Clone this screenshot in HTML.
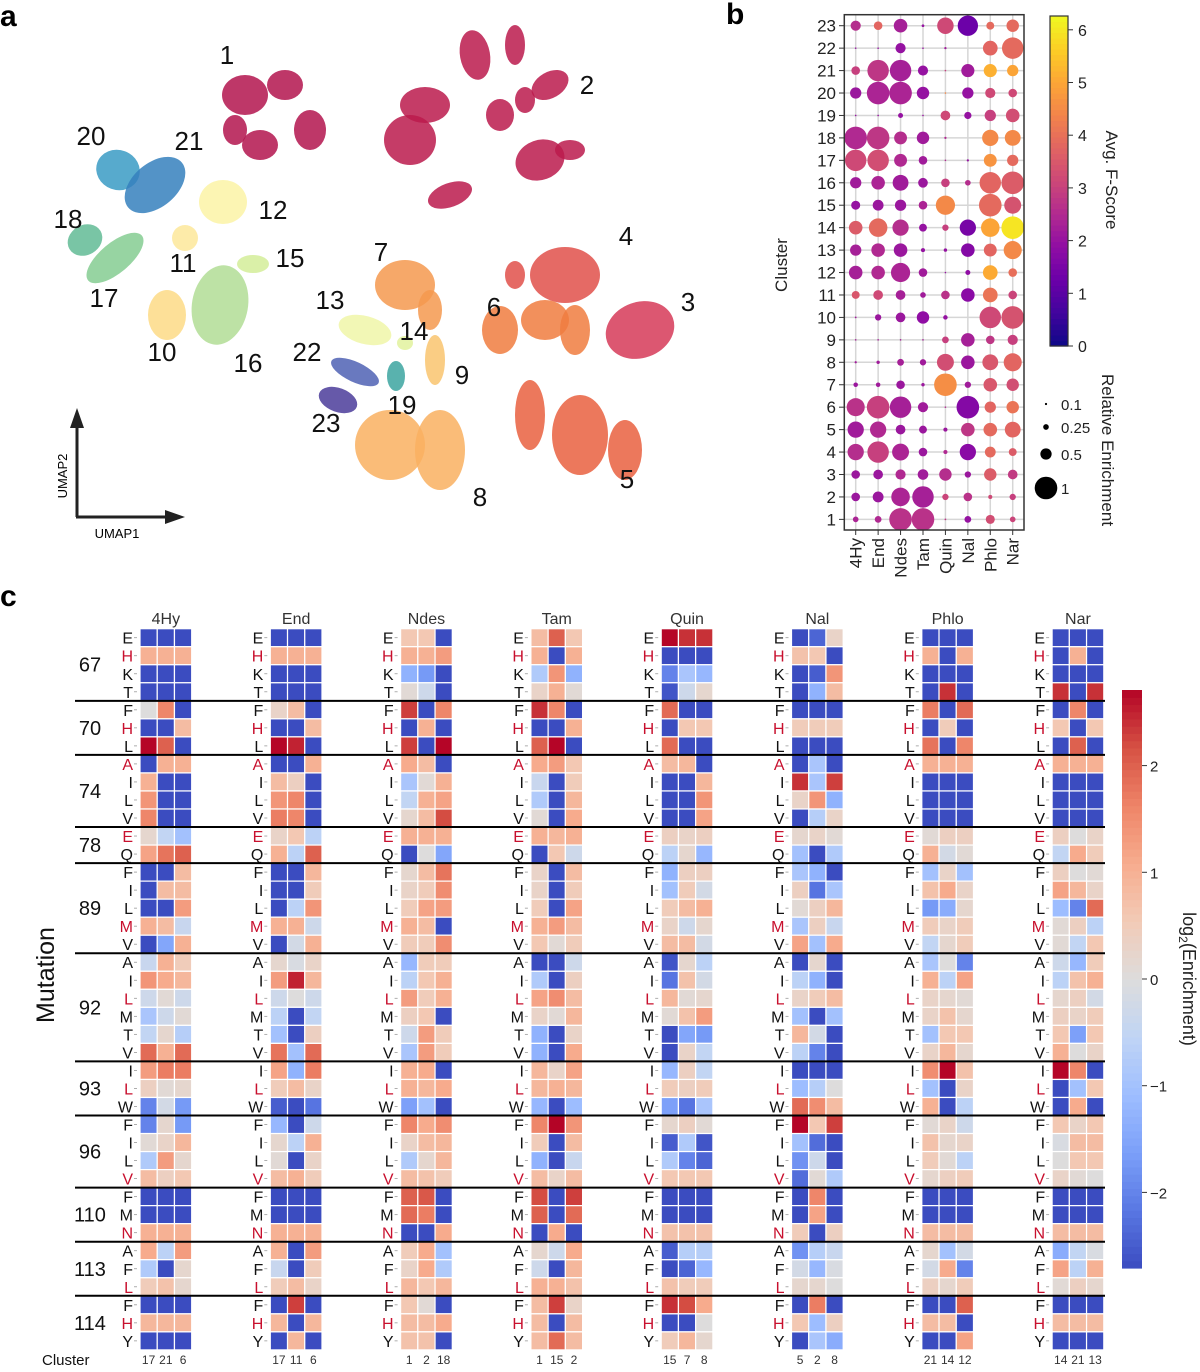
<!DOCTYPE html>
<html><head><meta charset="utf-8">
<style>
html,body{margin:0;padding:0;background:#fff;}
body{width:1200px;height:1367px;overflow:hidden;font-family:"Liberation Sans",Arial,sans-serif;}
svg text{font-family:"Liberation Sans",Arial,sans-serif;}
</style></head>
<body>
<svg id="fig" width="1200" height="1367" viewBox="0 0 1200 1367" xmlns="http://www.w3.org/2000/svg">
<text x="0" y="26" font-size="30" font-weight="bold">a</text>
<text x="726" y="24" font-size="30" font-weight="bold">b</text>
<text x="0" y="606" font-size="30" font-weight="bold">c</text>
<g id="umap"></g>
<g id="dot"></g>
<g id="heat"></g>
</svg>
<script>
// ===== Panel a data (UMAP embedding blobs: cluster, umap1, umap2, spreadX, spreadY, angle) =====
const umapClusters=['1','2','3','4','5','6','7','8','9','10','11','12','13','14','15','16','17','18','19','20','21','22','23'];
const umapColors=['#b3144d','#bb1a4c','#d63a58','#e0504a','#e9603f','#f07c40','#f5994f','#f9b060','#f9c46f','#fdda86','#fde79a','#fcf3a6','#f0f6a8','#e2f29e','#d4ed99','#b2dd95','#85cc92','#62bb95','#3ca5a0','#3a9bc4','#3580bd','#4f62b4','#4b3c9a'];
const umapLabelPos=[[22.7,5.5],[58.7,8.5],[68.8,30.2],[62.6,23.6],[62.7,47.9],[49.4,30.7],[38.1,25.2],[48,49.7],[46.2,37.5],[16.2,35.2],[18.3,26.3],[27.3,21],[33,30],[41.4,33.1],[29,25.8],[24.8,36.3],[10.4,29.8],[6.8,21.9],[40.2,40.5],[9.1,13.6],[18.9,14.1],[30.7,35.2],[32.6,42.3]];
const umapBlobs=[
[0,24.5,9.5,2.3,2,0],[0,28.5,8.5,1.8,1.5,0],[0,31,13,1.6,2,0],[0,26,14.5,1.8,1.5,0],[0,23.5,13,1.2,1.5,0],
[1,42.5,10.5,2.5,1.8,0],[1,41,14,2.6,2.5,0],[1,45,19.5,2.3,1.2,-20],[1,47.5,5.5,1.5,2.5,-10],[1,51.5,4.5,1,2,0],[1,50,11.5,1.4,1.6,0],[1,55,8.5,2,1.3,-30],[1,54,16,2.5,2,-20],[1,57,15,1.5,1,0],[1,52.5,10,1,1.3,0],
[2,64,33,3.5,2.8,-20],[3,56.5,27.5,3.5,2.8,0],[3,51.5,27.5,1,1.4,0],[4,53,41.5,1.5,3.5,0],[4,58,43.5,2.8,4,0],[4,62.5,45,1.7,3,0],
[5,50,33,1.8,2.4,0],[5,54.5,32,2.4,2,0],[5,57.5,33,1.5,2.5,0],[6,40.5,28.5,3,2.5,0],[6,43,31,1.2,2,0],
[7,39,44.5,3.5,3.5,0],[7,44,45,2.5,4,0],[8,43.5,36,1,2.5,0],[9,16.7,31.5,1.9,2.5,0],[10,18.5,23.8,1.3,1.3,0],[11,22.3,20.2,2.4,2.2,0],
[12,36.5,33,2.7,1.4,15],[13,40.5,34.3,0.8,0.7,0],[14,25.3,26.4,1.6,0.9,0],[15,22,30.5,2.8,4,10],[16,11.5,25.8,3.5,1.5,-40],[17,8.5,24,1.8,1.5,-30],[18,39.6,37.6,0.9,1.5,0],[19,11.8,17,2.2,2,20],[20,15.5,18.5,3.5,2.2,-40],[21,35.5,37.2,2.6,1,25],[22,33.8,40,2,1.2,20]];

// ===== Panel b data =====
const dotDrugs=['4Hy','End','Ndes','Tam','Quin','Nal','Phlo','Nar'];
const dotClusters=['23','22','21','20','19','18','17','16','15','14','13','12','11','10','9','8','7','6','5','4','3','2','1'];
const dotSize=[
[0.45,0.38,0.6,0.12,0.73,0.9,0.35,0.55],
[0.03,0.05,0.45,0.05,0.1,0,0.65,0.95],
[0.38,0.95,0.95,0.45,0.05,0.58,0.58,0.5],
[0.5,1,1,0.55,0.05,0.5,0.45,0.38],
[0.03,0.03,0.22,0.03,0.43,0.32,0.5,0.6],
[1,1,0.57,0.55,0.1,0,0.72,0.7],
[0.95,0.95,0.57,0.38,0.05,0.1,0.57,0.5],
[0.5,0.6,0.7,0.43,0.38,0.25,0.95,1],
[0.4,0.48,0.5,0.38,0.85,0,1,0.75],
[0.6,0.82,0.72,0.35,0.28,0.72,0.82,1],
[0.5,0.6,0.6,0.18,0.15,0.6,0.57,0.8],
[0.6,0.6,0.85,0.38,0.05,0.22,0.65,0.38],
[0.35,0.43,0.43,0.25,0.38,0.6,0.65,0.38],
[0.08,0.28,0.43,0.55,0.2,0,0.95,1],
[0.05,0.03,0.05,0.05,0.3,0.6,0.38,0.45],
[0.1,0.15,0.3,0.28,0.75,0.6,0.7,0.8],
[0.2,0.2,0.38,0.15,1,0.28,0.6,0.55],
[0.8,1,0.95,0.45,0.05,1,0.5,0.55],
[0.72,0.72,0.43,0.35,0.18,0.6,0.6,0.7],
[0.72,0.95,0.75,0.38,0.18,0.72,0.48,0.35],
[0.38,0.43,0.45,0.47,0.55,0.28,0.55,0.43],
[0.38,0.48,0.82,0.95,0.28,0.38,0.18,0.28],
[0.25,0.3,1,1,0.08,0.3,0.4,0.25]];
const dotScore=[
[2.6,3.8,2.3,2,3.2,1.3,3.9,3.9],
[2,2,2,2,2.2,0,3.8,3.9],
[3,2.8,2.3,2,3,2.2,5.2,5],
[2.1,2.4,2.4,2,4.5,2,3.2,3.2],
[2,2,2,2,3.2,2,3,3.3],
[2.5,2.8,2.6,2.2,2.5,0,4.5,4.5],
[3.2,3.3,2.5,2.2,2.5,2,4.7,3.9],
[2.2,2.4,2.2,2.1,3,2.6,3.8,3.6],
[2,2.1,2.1,2.4,4.5,0,3.9,3.4],
[3.6,3.9,2.6,2,3,1.5,5,6],
[2.3,2.5,2.1,2,2,1.7,3.8,4.5],
[2.3,2.5,2.4,2.2,2,1.9,5.1,4],
[3.5,3.2,2.3,2.2,2.7,1.8,4.1,3.1],
[2.2,2.1,2.1,1.9,2,0,3.2,3.4],
[2.3,2.3,2.3,2.3,3,2.3,2.8,3],
[2.2,2.2,2.3,2.2,3.3,2.1,3.5,3.8],
[2.1,2.2,2.1,2.1,4.6,2.2,3.5,3.3],
[2.7,3,2.3,2.2,2.5,1.7,3.8,4.1],
[2.2,2.5,2.1,2.1,2.1,2.8,3.9,3.8],
[2.6,3,2.4,2.1,2.5,1.8,3.9,3.6],
[2.1,2.1,2.5,2.2,2.6,2.1,3.6,2.9],
[2.1,2.1,2.4,2.3,3.1,2.7,3.2,3],
[2.4,2.5,2.7,2.7,2.8,2,3.3,3.1]];
const scoreTicks=[0,1,2,3,4,5,6];
const sizeLegend=[0.1,0.25,0.5,1];
const sizeLegendLabels=['0.1','0.25','0.5','1'];

// ===== Panel c data =====
const heatDrugs=['4Hy','End','Ndes','Tam','Quin','Nal','Phlo','Nar'];
const heatClusters=[['17','21','6'],['17','11','6'],['1','2','18'],['1','15','2'],['15','7','8'],['5','2','8'],['21','14','12'],['14','21','13']];
const positions=['67','70','74','78','89','92','93','96','110','113','114'];
const residues=[['E','H','K','T'],['F','H','L'],['A','I','L','V'],['E','Q'],['F','I','L','M','V'],['A','I','L','M','T','V'],['I','L','W'],['F','I','L','V'],['F','M','N'],['A','F','L'],['F','H','Y']];
const wildType=['H','H','A','E','M','L','L','V','N','L','H'];
const enrich4Hy=[[-3,-3,-3],[1,1,1],[-3,-3,-3],[-3,-3,-3],[0,1.6,-3],[-3,-3,0.8],[2.7,2,-3],[-3,1,1],[1,-3,-3],[1.4,-3,-3],[1.6,-3,-3],[0.2,-0.5,-1],[1.2,1.8,2],[-3,-3,0.8],[-3,0.8,0.8],[-3,-3,1.3],[1,0.8,-0.4],[-3,-1.5,1],[-0.4,1,0.5],[1.4,1.1,0.9],[-0.3,0.1,-0.3],[-0.9,-0.3,0.1],[-0.5,0.2,-0.7],[1.9,1,1.9],[1.3,1.7,1.7],[0.4,0.1,0.2],[-2,-0.2,-1.7],[-2,0.2,-1.7],[0.1,0.3,0.9],[-0.8,1.3,0.2],[0.8,0.4,0.6],[-3,-3,-3],[-3,-3,-3],[1,1,1],[1.1,-0.6,1.3],[-0.8,-3,0.2],[0.5,0.7,0.2],[-3,-3,-3],[0.9,0.9,0.9],[-3,-3,-3]];
const enrichEnd=[[-3,-3,-3],[1,1,1],[-3,-3,-3],[-3,-3,-3],[0.3,0.8,-3],[-3,-3,0.8],[2.7,2.5,-3],[-3,-3,1],[0.8,0.4,-3],[1.4,1.6,-3],[1.7,1.6,-3],[0.3,0.6,-0.6],[1,-0.6,2],[-3,-3,0.9],[-3,-3,0.5],[-3,-0.6,1.4],[1,1,-0.3],[-3,-0.2,1],[0.2,-0.1,0.3],[1.3,2.5,0.9],[-0.3,0,-0.3],[-0.6,-3,-0.5],[-1,-3,0.4],[1.8,-1,1.9],[1.2,-1.3,1.7],[0.5,0.8,0.3],[-2.5,-3,-2.2],[-1.2,-3,-0.3],[0.2,-0.6,1],[0.1,-3,0.3],[0.8,1,0.5],[-3,-3,-3],[-3,-3,-3],[1,1,1],[1,-3,1.3],[-0.4,-3,0.5],[0.5,0.8,0.3],[-3,2.3,-3],[0.9,-3,0.9],[-3,0.9,-3]];
const enrichNdes=[[0.6,0.6,-3],[1,1,1.3],[-1.3,-1.7,-3],[0.1,-0.3,-3],[2.3,-3,1.6],[-3,1,-3],[2.3,-3,2.7],[1.1,0.8,-3],[-0.9,0.1,1],[-0.5,1,1.2],[0.2,0.8,2.2],[1,1,1],[-3,0,-1.5],[0.2,0.8,1.8],[0.3,0.5,1.5],[0.5,1.2,1.3],[1,0.8,-3],[0.5,0.5,1.5],[-1.2,0.5,0.5],[-0.6,0.6,1],[1.3,0.5,1],[0.4,0.6,-3],[-0.3,1.3,0.5],[-0.9,1.3,0.5],[1,1.1,-3],[1,0.9,1.1],[-1.6,-1,-3],[1.6,1.1,1.5],[0.3,0.8,0.9],[-0.8,0.2,0.9],[0.8,0.7,0.5],[2,2.1,-3],[1.9,1.7,-3],[-3,-3,1.1],[0.5,1.1,-1],[0.3,1.1,-0.8],[0.9,0.6,0.9],[0.6,0.1,-3],[0.8,0.8,1.1],[0.7,0.7,-3]];
const enrichTam=[[0.8,2,0.6],[1,-3,1],[-0.8,1.4,-1.3],[0.3,1,0.1],[2.4,1.6,-3],[-3,-3,1],[2,2.7,-3],[1.1,1.3,0.6],[-0.4,-3,0.5],[-0.8,-3,0.9],[0.1,-3,1.1],[1,0.9,1],[-3,0.6,-0.3],[0.3,-3,0.8],[0.3,-3,0.5],[0.5,-3,1.2],[1,1.3,0.8],[0.6,0.1,0.5],[-3,-3,-0.3],[-0.8,-3,0.4],[1.2,1.5,0.8],[0.3,0.1,0.9],[-1.3,-3,0.3],[-1.3,-3,1.1],[0.9,0.3,1.2],[0.9,1,0.9],[-1.2,-3,-1.1],[1.6,2.8,1.4],[0.5,-3,0.8],[-1.3,-3,-0.4],[0.8,0.3,0.8],[2.2,-3,2.3],[2,-3,1.9],[-3,1.1,-3],[0.2,-0.3,1.1],[-0.3,-3,0.9],[1,1,0.7],[0.8,2.3,0.3],[0.8,-3,0.8],[0.8,1.9,0.8]];
const enrichQuin=[[2.7,2.4,2.4],[-3,-3,-3],[-2,-0.9,-1.2],[-2.6,-0.3,0.2],[1.9,-3,-3],[-3,0.6,0.6],[1.9,-3,-3],[0.8,0.9,-3],[-3,-3,0.9],[-3,-3,1.4],[-3,-3,1.2],[0.4,0.3,0.4],[-0.6,0.2,-1.2],[-1.3,0.4,0.4],[-1,0.5,-0.2],[0.5,0.8,1],[0.3,-0.3,0.2],[0.8,0.8,-0.2],[-2.6,0.2,-0.6],[-2.2,0.7,-0.2],[0.9,0.1,0.2],[0.1,0.7,1.3],[-3,-1.5,-1.7],[-3,0.3,-0.5],[-1.2,0.4,-0.5],[0.5,0.4,0.5],[-1.6,-2.2,-0.9],[0.2,0.4,0.1],[-2.5,-0.8,-2.6],[-0.8,-2,-2.4],[0.6,0.6,0.6],[-3,-3,-3],[-3,-3,-3],[0.7,0.7,0.7],[-2.5,-0.7,-0.7],[-3,-2.4,-1.2],[0.7,0.5,0.5],[2.4,2.2,1.1],[-3,-3,0],[0.5,0.9,0.2]];
const enrichNal=[[-3,-2.4,0.3],[0.7,0.6,-3],[-3,-2.5,1.4],[-3,-1.3,0.8],[-3,-3,-3],[0.5,0.5,0.5],[-3,-3,-3],[-3,-0.9,-3],[2.4,-0.9,2.3],[0.3,1.4,-1.3],[-3,-0.7,0.3],[0.2,0.3,0.1],[-1,-3,-0.8],[-0.9,-1.3,-3],[0.4,-2.2,-0.9],[0.1,0.4,0.9],[-0.9,0.4,-0.4],[1.2,-1,1.1],[-3,0.2,-3],[-0.6,-1.3,-3],[0.3,0.5,0.8],[-1,-3,-1],[0.9,-0.2,-3],[-0.6,-2,-3],[-3,-3,-3],[-1.1,-0.7,0],[1.9,1.5,0.8],[2.7,0.6,2.3],[-1,-2.3,-3],[-1.8,-0.3,-3],[-2.3,0.1,-0.8],[-3,1.6,-3],[-3,1.2,-3],[0.5,-3,0.4],[-1.8,-0.7,-0.4],[-0.2,-1.2,-0.1],[0.2,0.2,0],[-3,1.7,-3],[0.6,-1.1,0.4],[-3,-0.9,-1.4]];
const enrichPhlo=[[-3,-3,-3],[1,-3,1],[-3,-3,-3],[-3,2.4,-3],[1.7,-3,1.9],[-3,0.5,-3],[1.8,-3,1.6],[1,1,1],[-3,-3,-3],[-3,-3,-3],[-3,-3,-3],[0.1,0.4,0.4],[1,-0.2,0.1],[-1,0.3,-1],[0.7,1.1,0.3],[-1.7,-1.4,0.2],[0.5,0.3,0.5],[-0.5,0.2,0.5],[-0.9,0,-2],[1,-0.6,1.2],[0.3,0.2,0.1],[0.3,0.7,0.2],[-1,0.6,0.6],[0.3,0.9,0.2],[1.5,2.7,0.7],[-1,-3,0.3],[1,-3,-0.6],[0.1,0.3,-0.3],[0.7,0.2,0.3],[0.5,0.1,-0.6],[0.2,0.4,0.5],[-3,-3,-3],[-3,-3,-3],[0.8,0.8,0.8],[0.2,-1,-0.2],[-0.2,1.1,-2],[0.4,0.2,0.5],[-3,-3,2],[0.8,0.8,-3],[-3,-3,1.2]];
const enrichNar=[[-3,-3,-3],[-3,1,-3],[-3,-3,-3],[2.4,-3,2.4],[-3,1.6,-3],[0.6,-3,0.6],[-3,2,-3],[1,1,1],[-3,-3,-3],[-3,-3,-3],[-3,-3,-3],[0.4,0,0.3],[-0.5,1.1,0.5],[0.4,0,0.1],[1.2,0.9,0.3],[-1.1,-2,1.9],[0.1,0.4,-0.6],[0.1,-0.5,0.6],[-0.3,-1.2,0.5],[-0.6,0.7,1],[0.2,0.4,-0.2],[0.4,0.3,0.5],[0.6,-1.6,0.6],[1,0,0.3],[2.7,1.6,-3],[-3,-1,0.6],[-3,1.1,-3],[0.6,0.3,0.6],[-0.1,0.8,0.8],[0,0.6,0.6],[0.3,0.1,0],[-3,-3,-3],[-3,-3,-3],[0.8,0.8,0.8],[-1.4,-0.5,-0.1],[1.2,-0.6,1],[0.1,0.4,0.2],[-3,-3,-3],[0.8,0.8,0.8],[-3,-3,-3]];
const enrichAll=[enrich4Hy,enrichEnd,enrichNdes,enrichTam,enrichQuin,enrichNal,enrichPhlo,enrichNar];
const heatTicks=[-2,-1,0,1,2];
const heatTickLabels=['\u22122','\u22121','0','1','2'];

// ===== helpers =====
const NS='http://www.w3.org/2000/svg';
function mk(tag,attrs,parent,txt){const e=document.createElementNS(NS,tag);for(const k in attrs)e.setAttribute(k,attrs[k]);if(txt!==undefined)e.textContent=txt;parent.appendChild(e);return e;}
function hex(c){return [parseInt(c.slice(1,3),16),parseInt(c.slice(3,5),16),parseInt(c.slice(5,7),16)];}
function interp(stops,t){t=Math.max(0,Math.min(1,t));const n=stops.length-1;const i=Math.min(n-1,Math.floor(t*n));const f=t*n-i;const a=hex(stops[i]),b=hex(stops[i+1]);return 'rgb('+a.map((v,k)=>Math.round(v+(b[k]-v)*f)).join(',')+')';}
const plasma=['#0d0887','#41049d','#6a00a8','#8f0da4','#b12a90','#cc4778','#e16462','#f2844b','#fca636','#fcce25','#f0f921'];
const coolwarm=['#3b4cc0','#5977e3','#7b9ff9','#9ebeff','#c0d4f5','#dddcdc','#f2cbb7','#f7ac8e','#ee8468','#d65244','#b40426'];

// ===== Panel a =====
const ug=document.getElementById('umap');
const ux=v=>v*10, uy=v=>v*10;
umapBlobs.forEach(b=>{
  const e=mk('ellipse',{cx:ux(b[1]),cy:uy(b[2]),rx:b[3]*10,ry:b[4]*10,fill:umapColors[b[0]],'fill-opacity':0.85,transform:'rotate('+b[5]+' '+ux(b[1])+' '+uy(b[2])+')'},ug);
  
  
});
umapLabelPos.forEach((p,i)=>{
  const t=mk('text',{x:ux(p[0]),y:uy(p[1])+9,'font-size':26,'text-anchor':'middle',fill:'#111'},ug,umapClusters[i]);
  
  
});
const ax=mk('g',{},ug);


mk('line',{x1:77,y1:517,x2:77,y2:425,stroke:'#222','stroke-width':3},ax);
mk('polygon',{points:'70,428 84,428 77,408',fill:'#222'},ax);
mk('line',{x1:76,y1:517,x2:168,y2:517,stroke:'#222','stroke-width':3},ax);
mk('polygon',{points:'165,510 165,524 185,517',fill:'#222'},ax);
mk('text',{x:67,y:476,'font-size':13,'text-anchor':'middle',transform:'rotate(-90 67 476)'},ax,'UMAP2');
mk('text',{x:117,y:538,'font-size':13,'text-anchor':'middle'},ax,'UMAP1');

// ===== Panel b =====
const dg=document.getElementById('dot');
const dx=i=>855.7+i*22.43, dy=j=>25.7+j*22.44;
const rad=v=>11.3*v;
dotDrugs.forEach((d,i)=>mk('line',{x1:dx(i),y1:15,x2:dx(i),y2:530,stroke:'#d6d6d6','stroke-width':1.5},dg));
dotClusters.forEach((c,j)=>mk('line',{x1:845,y1:dy(j),x2:1024,y2:dy(j),stroke:'#d6d6d6','stroke-width':1.5},dg));
dotSize.forEach((row,j)=>row.forEach((v,i)=>{
  if(v<=0)return;
  const c=mk('circle',{cx:dx(i),cy:dy(j),r:Math.max(0.8,rad(v)),fill:interp(plasma,dotScore[j][i]/6.3)},dg);
  
  
}));
mk('rect',{x:844.3,y:14.7,width:179.7,height:515.3,fill:'none',stroke:'#333','stroke-width':1.5},dg);
dotClusters.forEach((c,j)=>{
  mk('line',{x1:839,y1:dy(j),x2:844,y2:dy(j),stroke:'#333'},dg);
  const t=mk('text',{x:836,y:dy(j)+6,'font-size':17,'text-anchor':'end',fill:'#222'},dg,c);
  
  
});
dotDrugs.forEach((d,i)=>{
  mk('line',{x1:dx(i),y1:530,x2:dx(i),y2:535,stroke:'#333'},dg);
  const t=mk('text',{x:dx(i)+6,y:538,'font-size':17,'text-anchor':'end',fill:'#222',transform:'rotate(-90 '+(dx(i)+6)+' 538)'},dg,d);
  
  
});
mk('text',{x:787,y:265,'font-size':17,'text-anchor':'middle',fill:'#222',transform:'rotate(-90 787 265)'},dg,'Cluster');
const cb=mk('g',{},dg);


const cbTop=16,cbBot=346;
for(let k=0;k<60;k++){mk('rect',{x:1050,y:cbBot-(k+1)*(cbBot-cbTop)/60,width:18,height:(cbBot-cbTop)/60+0.6,fill:interp(plasma,(k+0.5)/60)},cb);}
mk('rect',{x:1050,y:cbTop,width:18,height:cbBot-cbTop,fill:'none',stroke:'#333','stroke-width':1.2},cb);
const sy=v=>346-v*52.7;
scoreTicks.forEach(v=>{mk('line',{x1:1068,y1:sy(v),x2:1073,y2:sy(v),stroke:'#333'},cb);mk('text',{x:1078,y:sy(v)+6,'font-size':16,fill:'#222'},cb,String(v));});
mk('text',{x:1106,y:180,'font-size':17,'text-anchor':'middle',fill:'#222',transform:'rotate(90 1106 180)'},cb,'Avg. F-Score');
const szY=[404,427,454,488];
sizeLegend.forEach((v,k)=>{
  const c=mk('circle',{cx:1046,cy:szY[k],r:Math.max(1,rad(v)),fill:'#000'},dg);
  
  
  mk('text',{x:1061,y:szY[k]+6,'font-size':15,fill:'#222'},dg,sizeLegendLabels[k]);
});
mk('text',{x:1102,y:450,'font-size':17,'text-anchor':'middle',fill:'#222',transform:'rotate(90 1102 450)'},dg,'Relative Enrichment');

// ===== Panel c =====
const hg=document.getElementById('heat');
const bx=i=>140+i*130.3, cw=17.23;
const ry=r=>637.7+r*18.03;
const hColor=v=>interp(coolwarm,(v+2.71)/5.42);
let rowStart=[],r0=0;residues.forEach(g=>{rowStart.push(r0);r0+=g.length;});
enrichAll.forEach((vals,i)=>{
  const t=mk('text',{x:bx(i)+cw*1.5,y:624,'font-size':16,'text-anchor':'middle',fill:'#333'},hg,heatDrugs[i]);
  
  
  vals.forEach((row,r)=>row.forEach((v,k)=>{
    const c=mk('rect',{x:bx(i)+k*cw,y:ry(r)-9,width:cw,height:18.03,fill:hColor(v),stroke:'#fff','stroke-width':1.2},hg);
    
    
  }));
  residues.forEach((g,gi)=>g.forEach((res,k)=>{
    const r=rowStart[gi]+k;
    mk('line',{x1:bx(i)-6,y1:ry(r),x2:bx(i)-3,y2:ry(r),stroke:'#999','stroke-width':0.8},hg);
    mk('text',{x:bx(i)-7,y:ry(r)+6,'font-size':16,'text-anchor':'end',fill:res===wildType[gi]?'#c8102e':'#111'},hg,res);
  }));
  heatClusters[i].forEach((c,k)=>{
    mk('text',{x:bx(i)+(k+0.5)*cw,y:1364,'font-size':12,'text-anchor':'middle',fill:'#333'},hg,c);
  });
});
positions.forEach((p,gi)=>{
  const n=residues[gi].length;
  const yc=(ry(rowStart[gi])+ry(rowStart[gi]+n-1))/2;
  const t=mk('text',{x:90,y:yc+7,'font-size':20,'text-anchor':'middle',fill:'#111'},hg,p);
  
  
  if(gi>0){const yl=ry(rowStart[gi])-9;const l=mk('line',{x1:75,y1:yl,x2:1105,y2:yl,stroke:'#000','stroke-width':2},hg);
    
    }
});
mk('text',{x:42,y:1365,'font-size':15,fill:'#111'},hg,'Cluster');
mk('text',{x:54,y:975,'font-size':25,'text-anchor':'middle',fill:'#111',transform:'rotate(-90 54 975)'},hg,'Mutation');
const hb=mk('g',{},hg);


const hTop=690,hBot=1268;
for(let k=0;k<80;k++){mk('rect',{x:1122,y:hBot-(k+1)*(hBot-hTop)/80,width:20,height:(hBot-hTop)/80+0.6,fill:interp(coolwarm,(k+0.5)/80)},hb);}
const hy=v=>979-v*106.7;
heatTicks.forEach((v,k)=>{mk('line',{x1:1142,y1:hy(v),x2:1147,y2:hy(v),stroke:'#333'},hb);mk('text',{x:1150,y:hy(v)+6,'font-size':15,fill:'#222'},hb,heatTickLabels[k]);});
const lt=mk('text',{x:1183,y:979,'font-size':18,'text-anchor':'middle',fill:'#222',transform:'rotate(90 1183 979)'},hb);
mk('tspan',{},lt,'log');mk('tspan',{'font-size':12,dy:4},lt,'2');mk('tspan',{dy:-4},lt,'(Enrichment)');
</script>
</body></html>
